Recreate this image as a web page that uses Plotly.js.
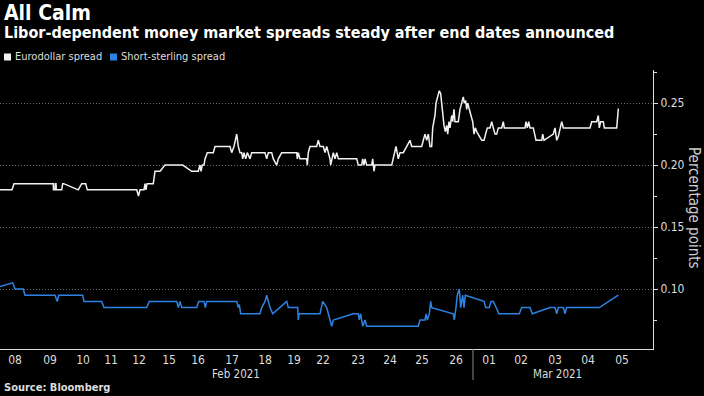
<!DOCTYPE html>
<html><head><meta charset="utf-8">
<script src="https://cdn.plot.ly/plotly-3.0.1.min.js"></script>
<style>html,body{margin:0;padding:0;background:#000;}#chart{width:704px;height:396px;}</style>
</head><body><div id="chart"></div>
<script>
// Trading-session time index (x) and spread values (percentage points)
const dayLabels = ['08','09','10','11','12','15','16','17','18','19','22','23','24','25','26','01','02','03','04','05'];
const dayPos = [1.5,5.0,8.3,11.1,13.9,16.9,19.8,23.2,26.5,29.4,32.3,35.8,39.0,42.2,45.6,48.9,52.1,55.5,58.8,62.2];
const monthLabels = ['Feb 2021','Mar 2021'];
const monthPos = [23.6,55.7];
const monthBreak = 47.3;

const euroX = [0,1.2,1.4,5.33,5.35,5.5,5.53,5.6,5.63,6.17,
6.27,6.37,7.83,8.17,8.57,8.73,13.67,13.85,14.0,14.4,
14.5,14.6,14.7,15.33,15.5,16.0,16.5,18.27,19.17,19.83,
20.0,20.1,20.23,20.4,20.5,20.73,21.33,21.5,23.0,23.17,
23.4,23.67,23.83,24.0,24.17,24.27,24.4,24.57,24.73,25.0,
25.17,26.5,26.67,26.83,27.17,27.33,27.67,27.83,28.17,29.67,
29.73,29.83,30.0,30.67,30.73,30.83,31.0,
31.67,31.83,32.0,32.33,32.5,32.67,32.83,33.0,33.07,33.17,
33.33,33.5,33.67,33.83,35.67,35.83,36.17,36.27,36.4,36.5,
36.67,37.17,37.27,37.4,37.5,39.17,39.33,39.6,39.83,40.0,
40.33,40.67,41.0,41.17,42.17,42.33,42.5,42.67,42.83,43.0,
43.17,43.27,43.4,43.5,43.6,43.73,43.93,44.07,44.17,44.27,
44.4,44.53,44.67,44.77,44.9,45.0,45.17,45.27,45.4,45.5,
45.83,46.0,46.17,46.33,46.43,46.57,46.67,46.77,46.93,47.1,
47.27,47.4,47.53,47.67,47.83,48.0,48.17,48.4,48.6,48.73,
49.0,49.17,49.33,49.5,49.67,49.83,50.17,50.33,50.43,52.5,
52.6,52.73,52.87,53.0,53.33,53.6,54.17,54.27,54.4,55.33,
55.5,55.67,55.83,56.17,56.33,59.0,59.17,59.67,59.83,59.93,
60.07,60.33,60.43,61.67,61.83,61.9];
const euroY = [.18,.18,.185,.185,.18,.18,.185,.185,.18,.18,
.185,.185,.18,.185,.185,.18,.18,.175,.18,.18,
.185,.18,.185,.185,.195,.195,.20,.20,.195,.195,
.20,.195,.20,.20,.205,.21,.21,.215,.215,.21,
.215,.225,.215,.21,.21,.205,.21,.205,.21,.205,
.21,.21,.205,.21,.21,.205,.20,.205,.21,.21,
.205,.21,.205,.205,.20,.21,.215,
.215,.22,.215,.215,.21,.215,.21,.205,.20,.205,
.21,.205,.21,.205,.205,.20,.20,.205,.20,.205,
.20,.20,.205,.195,.20,.20,.205,.215,.205,.21,
.21,.215,.22,.215,.215,.22,.225,.22,.225,.215,
.215,.23,.235,.24,.25,.255,.26,.2575,.25,.24,
.232,.227,.232,.225,.235,.23,.24,.235,.245,.235,
.235,.245,.25,.255,.25,.252,.245,.25,.245,.24,
.235,.225,.23,.227,.225,.222,.22,.22,.225,.23,
.23,.235,.23,.225,.225,.23,.23,.235,.23,.23,
.235,.23,.235,.23,.23,.22,.22,.225,.22,.225,
.23,.22,.223,.235,.23,.23,.235,.235,.24,.23,
.235,.235,.23,.23,.245,.245];

const sterlingX = [0,1.27,1.5,2.33,2.5,5.5,5.73,5.87,8.27,8.4,
10.17,10.4,14.67,14.93,17.67,17.83,18.0,18.17,19.67,19.87,
20.4,20.53,20.67,23.67,23.83,23.93,24.07,26.0,26.17,26.5,
26.67,26.83,27.0,27.27,28.67,28.83,29.77,29.83,29.9,32.0,
32.27,32.67,33.0,33.17,33.33,35.33,35.83,35.93,36.07,36.27,
36.5,36.67,41.83,42.0,42.5,42.6,42.73,42.93,43.07,43.17,
45.33,45.43,45.6,45.73,45.93,46.07,46.27,46.4,46.53,48.4,
48.57,48.93,49.1,49.33,49.9,51.93,52.17,53.0,53.23,55.0,
55.5,55.67,55.83,56.33,56.5,56.67,59.93,61.83];
const sterlingY = [.102,.105,.10,.10,.095,.095,.09,.095,.095,.09,
.09,.085,.085,.09,.09,.085,.09,.085,.085,.09,
.09,.085,.09,.09,.085,.0875,.08,.08,.085,.09,
.095,.09,.085,.08,.09,.085,.085,.075,.08,.08,
.09,.085,.075,.07,.075,.08,.08,.075,.08,.07,
.075,.07,.07,.075,.075,.08,.075,.08,.09,.085,
.08,.075,.085,.095,.10,.085,.095,.085,.095,.09,
.085,.085,.09,.09,.08,.08,.085,.085,.08,.085,
.085,.08,.085,.085,.08,.085,.085,.095];

const seriesNames = ['Eurodollar spread','Short-sterling spread'];
const colors = ['#f2f2f2','#2c83e2'];

const W = 704, H = 396, ML = 0, MR = 51, MT = 70, MB = 47;
const PW = W - ML - MR, PH = H - MT - MB;
const FONT = "'DejaVu Sans Condensed', 'Liberation Sans Narrow', 'DejaVu Sans', sans-serif";
const px = p => (p - ML) / PW;
const py = p => (H - MB - p) / PH;

const traces = [
  {x: euroX, y: euroY, type: 'scatter', mode: 'lines', name: seriesNames[0],
   line: {color: colors[0], width: 1.5}, hoverinfo: 'skip'},
  {x: sterlingX, y: sterlingY, type: 'scatter', mode: 'lines', name: seriesNames[1],
   line: {color: colors[1], width: 1.5}, hoverinfo: 'skip'}
];

const ann = [
  {text: '<b>All Calm</b>', x: px(2), y: py(13), xref: 'paper', yref: 'paper', xanchor: 'left', yanchor: 'middle', showarrow: false, font: {family: FONT, size: 21, color: '#ffffff'}},
  {text: '<b>Libor-dependent money market spreads steady after end dates announced</b>', x: px(2), y: py(33), xref: 'paper', yref: 'paper', xanchor: 'left', yanchor: 'middle', showarrow: false, font: {family: FONT, size: 16, color: '#ffffff'}},
  {text: seriesNames[0], x: px(13), y: py(57), xref: 'paper', yref: 'paper', xanchor: 'left', yanchor: 'middle', showarrow: false, font: {family: FONT, size: 11, color: '#dddddd'}},
  {text: seriesNames[1], x: px(119), y: py(57), xref: 'paper', yref: 'paper', xanchor: 'left', yanchor: 'middle', showarrow: false, font: {family: FONT, size: 11, color: '#dddddd'}},
  {text: '<b>Source: Bloomberg</b>', x: px(2), y: py(387), xref: 'paper', yref: 'paper', xanchor: 'left', yanchor: 'middle', showarrow: false, font: {family: FONT, size: 11, color: '#dddddd'}},
  {text: 'Percentage points', x: px(694), y: py(208), xref: 'paper', yref: 'paper', xanchor: 'center', yanchor: 'middle', textangle: 90, showarrow: false, font: {family: FONT, size: 15, color: '#cccccc'}}
];
monthLabels.forEach((m, i) => ann.push({text: m, x: monthPos[i], y: py(374), xref: 'x', yref: 'paper', xanchor: 'center', yanchor: 'middle', showarrow: false, font: {family: FONT, size: 11.5, color: '#dddddd'}}));

const shapes = [
  {type: 'rect', xref: 'paper', yref: 'paper', x0: px(4), x1: px(11), y0: py(60.5), y1: py(53.5), fillcolor: colors[0], line: {width: 0}},
  {type: 'rect', xref: 'paper', yref: 'paper', x0: px(110), x1: px(117), y0: py(60.5), y1: py(53.5), fillcolor: colors[1], line: {width: 0}},
  {type: 'line', xref: 'x', yref: 'paper', x0: monthBreak, x1: monthBreak, y0: 0, y1: py(380), line: {color: '#888888', width: 1}}
];

const layout = {
  width: W, height: H,
  margin: {l: ML, r: MR, t: MT, b: MB, pad: 0},
  paper_bgcolor: '#000000', plot_bgcolor: '#000000',
  showlegend: false,
  font: {family: FONT, color: '#dddddd'},
  xaxis: {range: [0, 65.3], tickmode: 'array', tickvals: dayPos, ticktext: dayLabels,
    showgrid: false, zeroline: false, showline: true, linecolor: '#dddddd', linewidth: 1,
    ticks: '', tickfont: {family: FONT, size: 12, color: '#dddddd'}, fixedrange: true},
  yaxis: {range: [0.0516, 0.2767], side: 'right', tickmode: 'linear', tick0: 0, dtick: 0.05,
    tickformat: '.2f', ticks: 'outside', ticklen: 4, tickcolor: '#dddddd', tickwidth: 1,
    showline: true, linecolor: '#dddddd', linewidth: 1, zeroline: false,
    showgrid: true, gridcolor: '#6a6a6a', griddash: '1px,2px', gridwidth: 1,
    minor: {dtick: 0.025, tick0: 0, ticks: 'outside', ticklen: 3, tickcolor: '#dddddd', showgrid: false},
    tickfont: {family: FONT, size: 12, color: '#dddddd'}, fixedrange: true},
  annotations: ann,
  shapes: shapes
};

Plotly.newPlot('chart', traces, layout, {staticPlot: true, displayModeBar: false});
</script>
</body></html>
